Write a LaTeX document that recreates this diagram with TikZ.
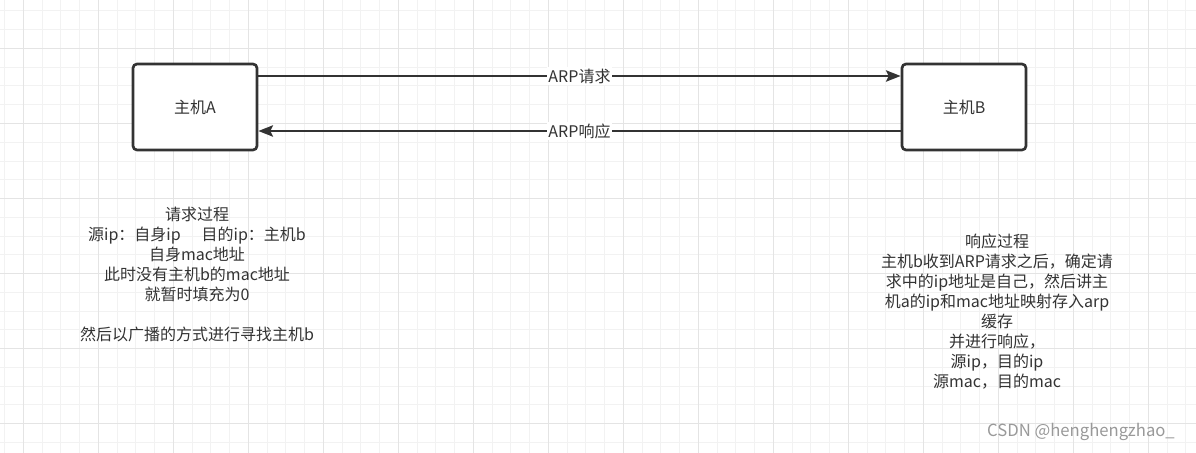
\documentclass[tikz,border=0pt]{standalone}
\usepackage{fontspec}
\setmainfont{Noto Sans CJK SC}
\usetikzlibrary{arrows.meta}
\definecolor{inkgray}{HTML}{333333}
\definecolor{gridminor}{HTML}{F2F2F2}
\definecolor{gridmajor}{HTML}{E4E4E4}
\tikzset{
  host/.style={draw=inkgray,line width=2pt,rounded corners=3pt,fill=white,
    minimum width=93pt,minimum height=64.5pt,text=inkgray,
    font=\fontsize{12}{15}\selectfont},
  flow/.style={draw=inkgray,line width=1.5pt,
    -{Stealth[length=11pt,width=8.5pt,inset=2pt]}},
  flowlabel/.style={fill=white,text=inkgray,inner xsep=1pt,inner ysep=1pt,
    font=\fontsize{12}{15}\selectfont},
  note/.style={align=center,text=inkgray,font=\fontsize{12}{15}\selectfont},
  watermark/.style={text=gray!80,font=\fontsize{12.5}{15}\selectfont}
}

\begin{document}
\begin{tikzpicture}[x=0.75pt,y=-0.75pt]
\fill[white] (0,0) rectangle (1196,453);
\useasboundingbox (0,0) rectangle (1196,453);
% grid
\foreach \k in {0,...,63}
  \draw[gridminor,line width=0.75pt] ({4.6+18.75*\k},0) -- ({4.6+18.75*\k},453);
\foreach \k in {0,...,23}
  \draw[gridminor,line width=0.75pt] (0,{11+18.75*\k}) -- (1196,{11+18.75*\k});
\foreach \k in {0,...,15}
  \draw[gridmajor,line width=0.75pt] ({23.35+75*\k},0) -- ({23.35+75*\k},453);
\foreach \k in {0,...,5}
  \draw[gridmajor,line width=0.75pt] (0,{48.5+75*\k}) -- (1196,{48.5+75*\k});

\node[host] (hostA) at (195,107) {主机A};
\node[host] (hostB) at (964,107) {主机B};

\draw[flow] ([yshift=23.25pt]hostA.east) -- ([yshift=23.25pt]hostB.west)
  node[flowlabel,midway] (reqlabel) {ARP请求};
\draw[flow] ([yshift=-18pt]hostB.west) -- ([yshift=-18pt]hostA.east)
  node[flowlabel,midway] (resplabel) {ARP响应};

\node[note] (reqnote) at (197,274) {请求过程\\源ip：自身ip\hspace{1.3em}目的ip：主机b\\自身mac地址\\此时没有主机b的mac地址\\就暂时填充为0\\[15pt]然后以广播的方式进行寻找主机b};
\node[note] (respnote) at (997,312) {响应过程\\主机b收到ARP请求之后，确定请\\求中的ip地址是自己，然后讲主\\机a的ip和mac地址映射存入arp\\缓存\\并进行响应，\\源ip，目的ip\\源mac，目的mac};

\node[watermark] (mark) at (1081,432) {CSDN @henghengzhao\_};
\end{tikzpicture}
\end{document}
